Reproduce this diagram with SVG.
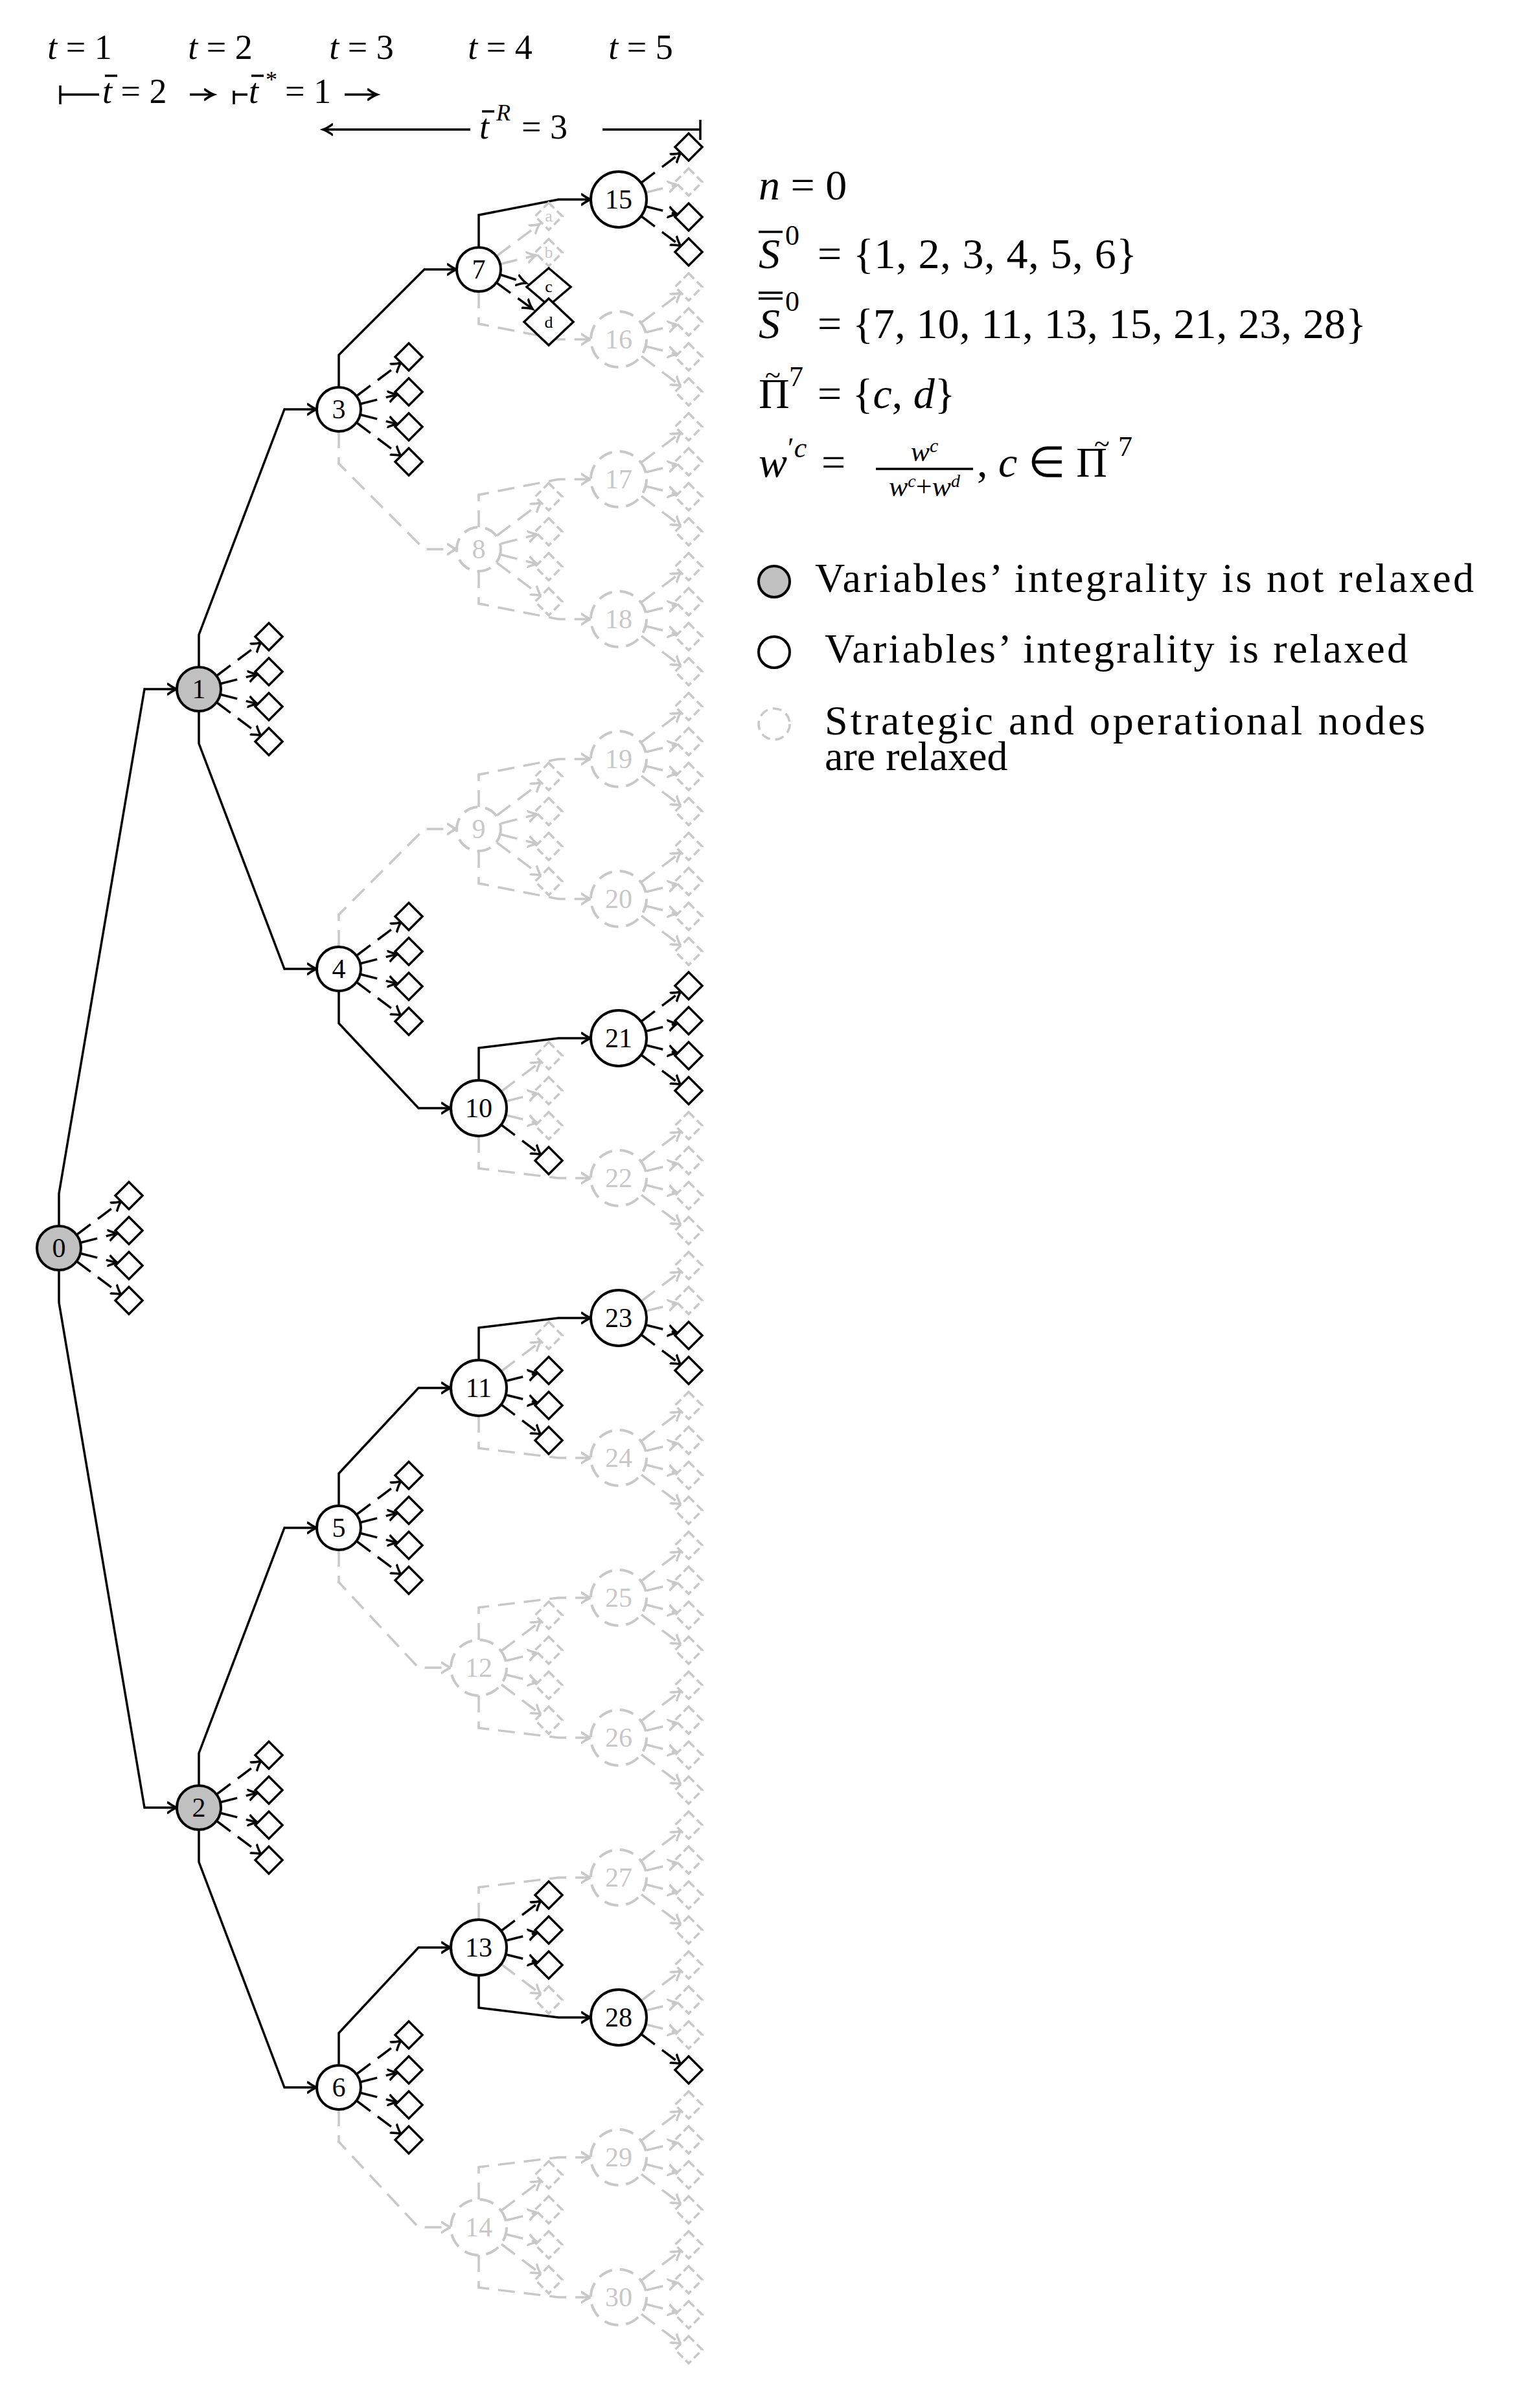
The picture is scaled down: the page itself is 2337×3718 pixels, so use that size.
<svg xmlns="http://www.w3.org/2000/svg" xmlns:xlink="http://www.w3.org/1999/xlink" width="2337" height="3718" viewBox="0 0 2337 3718">
<style>
.e{fill:none;stroke:#000;stroke-width:3.5;marker-end:url(#mb)}
.eg{fill:none;stroke:#c8c8c8;stroke-width:3.5;stroke-dasharray:26 14;marker-end:url(#mg)}
.ab{stroke:#000;stroke-width:3.5;stroke-dasharray:26 14;marker-end:url(#mb)}
.ag{stroke:#c8c8c8;stroke-width:3.5;stroke-dasharray:26 14;marker-end:url(#mg)}
.db{fill:#fff;stroke:#000;stroke-width:3.5}
.dg{fill:#fff;stroke:#c8c8c8;stroke-width:3.5;stroke-dasharray:12 6}
.nb{fill:#fff;stroke:#000;stroke-width:4}
.nf{fill:#c0c0c0;stroke:#000;stroke-width:4}
.ng{fill:#fff;stroke:#c8c8c8;stroke-width:4;stroke-dasharray:22 12}
.lb{font-family:"Liberation Serif",serif;font-size:42px;text-anchor:middle;fill:#000}
.lg{font-family:"Liberation Serif",serif;font-size:42px;text-anchor:middle;fill:#c8c8c8}
.sm{font-family:"Liberation Serif",serif;font-size:26px;text-anchor:middle}
.hd{font-family:"Liberation Serif",serif;font-size:54px}
.mt{font-family:"Liberation Serif",serif;font-size:66px}
.sup{font-family:"Liberation Serif",serif;font-size:44px}
.lgd{font-family:"Liberation Serif",serif;font-size:64px}
.ln{stroke:#000;stroke-width:3.5;fill:none}
.i{font-style:italic}
</style>
<defs>
<marker id="mb" markerUnits="userSpaceOnUse" markerWidth="30" markerHeight="30" viewBox="-15 -15 30 30" refX="0" refY="0" orient="auto"><path d="M-14,-8 Q-6,-2 0,0 Q-6,2 -14,8" fill="none" stroke="#000" stroke-width="3.5" stroke-linecap="round"/></marker>
<marker id="mg" markerUnits="userSpaceOnUse" markerWidth="30" markerHeight="30" viewBox="-15 -15 30 30" refX="0" refY="0" orient="auto"><path d="M-14,-8 Q-6,-2 0,0 Q-6,2 -14,8" fill="none" stroke="#c8c8c8" stroke-width="3.5" stroke-linecap="round"/></marker>
<polygon id="dm" points="0,-21 21,0 0,21 -21,0"/>
</defs>
<rect width="2337" height="3718" fill="#fff"/>

<g id="header">
<text x="123" y="91" class="hd" text-anchor="middle"><tspan class="i">t</tspan> = 1</text>
<text x="340" y="91" class="hd" text-anchor="middle"><tspan class="i">t</tspan> = 2</text>
<text x="558" y="91" class="hd" text-anchor="middle"><tspan class="i">t</tspan> = 3</text>
<text x="772" y="91" class="hd" text-anchor="middle"><tspan class="i">t</tspan> = 4</text>
<text x="989" y="91" class="hd" text-anchor="middle"><tspan class="i">t</tspan> = 5</text>
<path class="ln" d="M93,132 V161 M93,146 H153"/>
<text x="158" y="159" class="hd"><tspan class="i">t</tspan> = 2</text>
<line class="ln" x1="162" y1="117" x2="181" y2="117"/>
<line x1="293" y1="146" x2="330" y2="146" stroke="#000" stroke-width="3.5" marker-end="url(#mb)"/>
<path class="ln" d="M361,140 V161 M361,146 H382"/>
<text x="384" y="159" class="hd"><tspan class="i">t</tspan></text>
<line class="ln" x1="388" y1="117" x2="407" y2="117"/>
<text x="410" y="135" style="font-family:'Liberation Serif',serif;font-size:36px">*</text>
<text x="440" y="159" class="hd">= 1</text>
<line x1="532" y1="146" x2="582" y2="146" stroke="#000" stroke-width="3.5" marker-end="url(#mb)"/>
<line x1="726" y1="200" x2="499" y2="200" stroke="#000" stroke-width="3.5" marker-end="url(#mb)"/>
<text x="740" y="214" class="hd"><tspan class="i">t</tspan></text>
<line class="ln" x1="744" y1="172" x2="763" y2="172"/>
<text x="766" y="186" style="font-family:'Liberation Serif',serif;font-size:36px;font-style:italic">R</text>
<text x="805" y="214" class="hd">= 3</text>
<path class="ln" d="M930,200 H1081 M1081,185 V216"/>
</g>

<g id="info">
<text x="1171" y="308" class="mt"><tspan class="i">n</tspan> = 0</text>
<line class="ln" x1="1171" y1="358" x2="1208" y2="358"/>
<text x="1171" y="414" class="mt"><tspan class="i">S</tspan></text>
<text x="1212" y="378" class="sup">0</text>
<text x="1262" y="414" class="mt" textLength="493">= {1, 2, 3, 4, 5, 6}</text>
<line class="ln" x1="1171" y1="452" x2="1208" y2="452"/>
<line class="ln" x1="1171" y1="461" x2="1208" y2="461"/>
<text x="1171" y="522" class="mt"><tspan class="i">S</tspan></text>
<text x="1212" y="480" class="sup">0</text>
<text x="1262" y="522" class="mt" textLength="847">= {7, 10, 11, 13, 15, 21, 23, 28}</text>
<text x="1171" y="630" class="mt">Π</text>
<text x="1181" y="594" class="sup">~</text>
<text x="1218" y="596" class="sup">7</text>
<text x="1262" y="630" class="mt">= {<tspan class="i">c</tspan>, <tspan class="i">d</tspan>}</text>
<text x="1171" y="736" class="mt"><tspan class="i">w</tspan></text>
<text x="1216" y="706" class="sup">′<tspan class="i">c</tspan></text>
<text x="1268" y="736" class="mt">=</text>
<text x="1427" y="712" class="sup" text-anchor="middle"><tspan class="i">w</tspan><tspan class="i" style="font-size:30px" dy="-14">c</tspan></text>
<line class="ln" x1="1352" y1="724" x2="1502" y2="724" stroke-width="2.5"/>
<text x="1427" y="766" class="sup" text-anchor="middle"><tspan class="i">w</tspan><tspan class="i" style="font-size:28px" dy="-14">c</tspan><tspan dy="14">+</tspan><tspan class="i">w</tspan><tspan class="i" style="font-size:28px" dy="-14">d</tspan></text>
<text x="1508" y="736" class="mt">,  <tspan class="i">c</tspan> ∈ Π</text>
<text x="1689" y="700" class="sup">~</text>
<text x="1726" y="704" class="sup">7</text>
</g>

<g id="legend">
<circle cx="1195" cy="898" r="24" class="nf"/>
<text x="1258" y="914" class="lgd" textLength="1017">Variables’ integrality is not relaxed</text>
<circle cx="1195" cy="1007" r="24" class="nb"/>
<text x="1273" y="1023" class="lgd" textLength="900">Variables’ integrality is relaxed</text>
<circle cx="1195" cy="1118" r="24" fill="#fff" stroke="#c8c8c8" stroke-width="3.5" stroke-dasharray="14 8"/>
<text x="1273" y="1134" class="lgd" textLength="927">Strategic and operational nodes</text>
<text x="1273" y="1189" class="lgd">are relaxed</text>
</g>

<g id="connectors">
<path class="eg" d="M523,666 V716 L655,848 H705"/>
<path class="eg" d="M523,1462 V1412 L655,1280 H705"/>
<path class="eg" d="M523,2393 V2443 L646,2575 H696"/>
<path class="eg" d="M523,3257 V3307 L646,3439 H696"/>
<path class="eg" d="M739,450 V500 L862,524 H912"/>
<path class="eg" d="M739,814 V764 L862,740 H912"/>
<path class="eg" d="M739,882 V932 L862,956 H912"/>
<path class="eg" d="M739,1246 V1196 L862,1172 H912"/>
<path class="eg" d="M739,1314 V1364 L862,1388 H912"/>
<path class="eg" d="M739,1754 V1804 L862,1819 H912"/>
<path class="eg" d="M739,2186 V2236 L862,2251 H912"/>
<path class="eg" d="M739,2532 V2482 L862,2467 H912"/>
<path class="eg" d="M739,2618 V2668 L862,2683 H912"/>
<path class="eg" d="M739,2964 V2914 L862,2899 H912"/>
<path class="eg" d="M739,3396 V3346 L862,3331 H912"/>
<path class="eg" d="M739,3482 V3532 L862,3547 H912"/>
<path class="e" d="M91,1893 V1843 L223,1064 H273"/>
<path class="e" d="M91,1961 V2011 L223,2791 H273"/>
<path class="e" d="M307,1030 V980 L439,632 H489"/>
<path class="e" d="M307,1098 V1148 L439,1496 H489"/>
<path class="e" d="M307,2757 V2707 L439,2359 H489"/>
<path class="e" d="M307,2825 V2875 L439,3223 H489"/>
<path class="e" d="M523,598 V548 L655,416 H705"/>
<path class="e" d="M523,1530 V1580 L646,1711 H696"/>
<path class="e" d="M523,2325 V2275 L646,2143 H696"/>
<path class="e" d="M523,3189 V3139 L646,3007 H696"/>
<path class="e" d="M739,382 V332 L862,308 H912"/>
<path class="e" d="M739,1668 V1618 L862,1603 H912"/>
<path class="e" d="M739,2100 V2050 L862,2035 H912"/>
<path class="e" d="M739,3050 V3100 L862,3115 H912"/>
</g>

<!-- gray nodes -->
<g id="node-8"><g transform="translate(739,848)"><line x1="28" y1="-21" x2="96" y2="-72" class="ag"/><line x1="34" y1="-8.5" x2="91" y2="-23" class="ag"/><line x1="34" y1="8.5" x2="91" y2="23" class="ag"/><line x1="28" y1="21" x2="96" y2="72" class="ag"/><use href="#dm" x="108" y="-81" class="dg"/><use href="#dm" x="108" y="-27" class="dg"/><use href="#dm" x="108" y="27" class="dg"/><use href="#dm" x="108" y="81" class="dg"/></g><circle cx="739" cy="848" r="34" class="ng"/><text x="739" y="862" class="lg">8</text></g>
<g id="node-9"><g transform="translate(739,1280)"><line x1="28" y1="-21" x2="96" y2="-72" class="ag"/><line x1="34" y1="-8.5" x2="91" y2="-23" class="ag"/><line x1="34" y1="8.5" x2="91" y2="23" class="ag"/><line x1="28" y1="21" x2="96" y2="72" class="ag"/><use href="#dm" x="108" y="-81" class="dg"/><use href="#dm" x="108" y="-27" class="dg"/><use href="#dm" x="108" y="27" class="dg"/><use href="#dm" x="108" y="81" class="dg"/></g><circle cx="739" cy="1280" r="34" class="ng"/><text x="739" y="1294" class="lg">9</text></g>
<g id="node-12"><g transform="translate(739,2575)"><line x1="35" y1="-26" x2="96" y2="-72" class="ag"/><line x1="43" y1="-11" x2="91" y2="-23" class="ag"/><line x1="43" y1="11" x2="91" y2="23" class="ag"/><line x1="35" y1="26" x2="96" y2="72" class="ag"/><use href="#dm" x="108" y="-81" class="dg"/><use href="#dm" x="108" y="-27" class="dg"/><use href="#dm" x="108" y="27" class="dg"/><use href="#dm" x="108" y="81" class="dg"/></g><circle cx="739" cy="2575" r="43" class="ng"/><text x="739" y="2589" class="lg">12</text></g>
<g id="node-14"><g transform="translate(739,3439)"><line x1="35" y1="-26" x2="96" y2="-72" class="ag"/><line x1="43" y1="-11" x2="91" y2="-23" class="ag"/><line x1="43" y1="11" x2="91" y2="23" class="ag"/><line x1="35" y1="26" x2="96" y2="72" class="ag"/><use href="#dm" x="108" y="-81" class="dg"/><use href="#dm" x="108" y="-27" class="dg"/><use href="#dm" x="108" y="27" class="dg"/><use href="#dm" x="108" y="81" class="dg"/></g><circle cx="739" cy="3439" r="43" class="ng"/><text x="739" y="3453" class="lg">14</text></g>
<g id="node-16"><g transform="translate(955,524)"><line x1="35" y1="-26" x2="96" y2="-72" class="ag"/><line x1="43" y1="-11" x2="91" y2="-23" class="ag"/><line x1="43" y1="11" x2="91" y2="23" class="ag"/><line x1="35" y1="26" x2="96" y2="72" class="ag"/><use href="#dm" x="108" y="-81" class="dg"/><use href="#dm" x="108" y="-27" class="dg"/><use href="#dm" x="108" y="27" class="dg"/><use href="#dm" x="108" y="81" class="dg"/></g><circle cx="955" cy="524" r="43" class="ng"/><text x="955" y="538" class="lg">16</text></g>
<g id="node-17"><g transform="translate(955,740)"><line x1="35" y1="-26" x2="96" y2="-72" class="ag"/><line x1="43" y1="-11" x2="91" y2="-23" class="ag"/><line x1="43" y1="11" x2="91" y2="23" class="ag"/><line x1="35" y1="26" x2="96" y2="72" class="ag"/><use href="#dm" x="108" y="-81" class="dg"/><use href="#dm" x="108" y="-27" class="dg"/><use href="#dm" x="108" y="27" class="dg"/><use href="#dm" x="108" y="81" class="dg"/></g><circle cx="955" cy="740" r="43" class="ng"/><text x="955" y="754" class="lg">17</text></g>
<g id="node-18"><g transform="translate(955,956)"><line x1="35" y1="-26" x2="96" y2="-72" class="ag"/><line x1="43" y1="-11" x2="91" y2="-23" class="ag"/><line x1="43" y1="11" x2="91" y2="23" class="ag"/><line x1="35" y1="26" x2="96" y2="72" class="ag"/><use href="#dm" x="108" y="-81" class="dg"/><use href="#dm" x="108" y="-27" class="dg"/><use href="#dm" x="108" y="27" class="dg"/><use href="#dm" x="108" y="81" class="dg"/></g><circle cx="955" cy="956" r="43" class="ng"/><text x="955" y="970" class="lg">18</text></g>
<g id="node-19"><g transform="translate(955,1172)"><line x1="35" y1="-26" x2="96" y2="-72" class="ag"/><line x1="43" y1="-11" x2="91" y2="-23" class="ag"/><line x1="43" y1="11" x2="91" y2="23" class="ag"/><line x1="35" y1="26" x2="96" y2="72" class="ag"/><use href="#dm" x="108" y="-81" class="dg"/><use href="#dm" x="108" y="-27" class="dg"/><use href="#dm" x="108" y="27" class="dg"/><use href="#dm" x="108" y="81" class="dg"/></g><circle cx="955" cy="1172" r="43" class="ng"/><text x="955" y="1186" class="lg">19</text></g>
<g id="node-20"><g transform="translate(955,1388)"><line x1="35" y1="-26" x2="96" y2="-72" class="ag"/><line x1="43" y1="-11" x2="91" y2="-23" class="ag"/><line x1="43" y1="11" x2="91" y2="23" class="ag"/><line x1="35" y1="26" x2="96" y2="72" class="ag"/><use href="#dm" x="108" y="-81" class="dg"/><use href="#dm" x="108" y="-27" class="dg"/><use href="#dm" x="108" y="27" class="dg"/><use href="#dm" x="108" y="81" class="dg"/></g><circle cx="955" cy="1388" r="43" class="ng"/><text x="955" y="1402" class="lg">20</text></g>
<g id="node-22"><g transform="translate(955,1819)"><line x1="35" y1="-26" x2="96" y2="-72" class="ag"/><line x1="43" y1="-11" x2="91" y2="-23" class="ag"/><line x1="43" y1="11" x2="91" y2="23" class="ag"/><line x1="35" y1="26" x2="96" y2="72" class="ag"/><use href="#dm" x="108" y="-81" class="dg"/><use href="#dm" x="108" y="-27" class="dg"/><use href="#dm" x="108" y="27" class="dg"/><use href="#dm" x="108" y="81" class="dg"/></g><circle cx="955" cy="1819" r="43" class="ng"/><text x="955" y="1833" class="lg">22</text></g>
<g id="node-24"><g transform="translate(955,2251)"><line x1="35" y1="-26" x2="96" y2="-72" class="ag"/><line x1="43" y1="-11" x2="91" y2="-23" class="ag"/><line x1="43" y1="11" x2="91" y2="23" class="ag"/><line x1="35" y1="26" x2="96" y2="72" class="ag"/><use href="#dm" x="108" y="-81" class="dg"/><use href="#dm" x="108" y="-27" class="dg"/><use href="#dm" x="108" y="27" class="dg"/><use href="#dm" x="108" y="81" class="dg"/></g><circle cx="955" cy="2251" r="43" class="ng"/><text x="955" y="2265" class="lg">24</text></g>
<g id="node-25"><g transform="translate(955,2467)"><line x1="35" y1="-26" x2="96" y2="-72" class="ag"/><line x1="43" y1="-11" x2="91" y2="-23" class="ag"/><line x1="43" y1="11" x2="91" y2="23" class="ag"/><line x1="35" y1="26" x2="96" y2="72" class="ag"/><use href="#dm" x="108" y="-81" class="dg"/><use href="#dm" x="108" y="-27" class="dg"/><use href="#dm" x="108" y="27" class="dg"/><use href="#dm" x="108" y="81" class="dg"/></g><circle cx="955" cy="2467" r="43" class="ng"/><text x="955" y="2481" class="lg">25</text></g>
<g id="node-26"><g transform="translate(955,2683)"><line x1="35" y1="-26" x2="96" y2="-72" class="ag"/><line x1="43" y1="-11" x2="91" y2="-23" class="ag"/><line x1="43" y1="11" x2="91" y2="23" class="ag"/><line x1="35" y1="26" x2="96" y2="72" class="ag"/><use href="#dm" x="108" y="-81" class="dg"/><use href="#dm" x="108" y="-27" class="dg"/><use href="#dm" x="108" y="27" class="dg"/><use href="#dm" x="108" y="81" class="dg"/></g><circle cx="955" cy="2683" r="43" class="ng"/><text x="955" y="2697" class="lg">26</text></g>
<g id="node-27"><g transform="translate(955,2899)"><line x1="35" y1="-26" x2="96" y2="-72" class="ag"/><line x1="43" y1="-11" x2="91" y2="-23" class="ag"/><line x1="43" y1="11" x2="91" y2="23" class="ag"/><line x1="35" y1="26" x2="96" y2="72" class="ag"/><use href="#dm" x="108" y="-81" class="dg"/><use href="#dm" x="108" y="-27" class="dg"/><use href="#dm" x="108" y="27" class="dg"/><use href="#dm" x="108" y="81" class="dg"/></g><circle cx="955" cy="2899" r="43" class="ng"/><text x="955" y="2913" class="lg">27</text></g>
<g id="node-29"><g transform="translate(955,3331)"><line x1="35" y1="-26" x2="96" y2="-72" class="ag"/><line x1="43" y1="-11" x2="91" y2="-23" class="ag"/><line x1="43" y1="11" x2="91" y2="23" class="ag"/><line x1="35" y1="26" x2="96" y2="72" class="ag"/><use href="#dm" x="108" y="-81" class="dg"/><use href="#dm" x="108" y="-27" class="dg"/><use href="#dm" x="108" y="27" class="dg"/><use href="#dm" x="108" y="81" class="dg"/></g><circle cx="955" cy="3331" r="43" class="ng"/><text x="955" y="3345" class="lg">29</text></g>
<g id="node-30"><g transform="translate(955,3547)"><line x1="35" y1="-26" x2="96" y2="-72" class="ag"/><line x1="43" y1="-11" x2="91" y2="-23" class="ag"/><line x1="43" y1="11" x2="91" y2="23" class="ag"/><line x1="35" y1="26" x2="96" y2="72" class="ag"/><use href="#dm" x="108" y="-81" class="dg"/><use href="#dm" x="108" y="-27" class="dg"/><use href="#dm" x="108" y="27" class="dg"/><use href="#dm" x="108" y="81" class="dg"/></g><circle cx="955" cy="3547" r="43" class="ng"/><text x="955" y="3561" class="lg">30</text></g>

<!-- black nodes -->
<g id="node-0"><g transform="translate(91,1927)"><line x1="28" y1="-21" x2="96" y2="-72" class="ab"/><line x1="34" y1="-8.5" x2="91" y2="-23" class="ab"/><line x1="34" y1="8.5" x2="91" y2="23" class="ab"/><line x1="28" y1="21" x2="96" y2="72" class="ab"/><use href="#dm" x="108" y="-81" class="db"/><use href="#dm" x="108" y="-27" class="db"/><use href="#dm" x="108" y="27" class="db"/><use href="#dm" x="108" y="81" class="db"/></g><circle cx="91" cy="1927" r="34" class="nf"/><text x="91" y="1941" class="lb">0</text></g>
<g id="node-1"><g transform="translate(307,1064)"><line x1="28" y1="-21" x2="96" y2="-72" class="ab"/><line x1="34" y1="-8.5" x2="91" y2="-23" class="ab"/><line x1="34" y1="8.5" x2="91" y2="23" class="ab"/><line x1="28" y1="21" x2="96" y2="72" class="ab"/><use href="#dm" x="108" y="-81" class="db"/><use href="#dm" x="108" y="-27" class="db"/><use href="#dm" x="108" y="27" class="db"/><use href="#dm" x="108" y="81" class="db"/></g><circle cx="307" cy="1064" r="34" class="nf"/><text x="307" y="1078" class="lb">1</text></g>
<g id="node-2"><g transform="translate(307,2791)"><line x1="28" y1="-21" x2="96" y2="-72" class="ab"/><line x1="34" y1="-8.5" x2="91" y2="-23" class="ab"/><line x1="34" y1="8.5" x2="91" y2="23" class="ab"/><line x1="28" y1="21" x2="96" y2="72" class="ab"/><use href="#dm" x="108" y="-81" class="db"/><use href="#dm" x="108" y="-27" class="db"/><use href="#dm" x="108" y="27" class="db"/><use href="#dm" x="108" y="81" class="db"/></g><circle cx="307" cy="2791" r="34" class="nf"/><text x="307" y="2805" class="lb">2</text></g>
<g id="node-3"><g transform="translate(523,632)"><line x1="28" y1="-21" x2="96" y2="-72" class="ab"/><line x1="34" y1="-8.5" x2="91" y2="-23" class="ab"/><line x1="34" y1="8.5" x2="91" y2="23" class="ab"/><line x1="28" y1="21" x2="96" y2="72" class="ab"/><use href="#dm" x="108" y="-81" class="db"/><use href="#dm" x="108" y="-27" class="db"/><use href="#dm" x="108" y="27" class="db"/><use href="#dm" x="108" y="81" class="db"/></g><circle cx="523" cy="632" r="34" class="nb"/><text x="523" y="646" class="lb">3</text></g>
<g id="node-4"><g transform="translate(523,1496)"><line x1="28" y1="-21" x2="96" y2="-72" class="ab"/><line x1="34" y1="-8.5" x2="91" y2="-23" class="ab"/><line x1="34" y1="8.5" x2="91" y2="23" class="ab"/><line x1="28" y1="21" x2="96" y2="72" class="ab"/><use href="#dm" x="108" y="-81" class="db"/><use href="#dm" x="108" y="-27" class="db"/><use href="#dm" x="108" y="27" class="db"/><use href="#dm" x="108" y="81" class="db"/></g><circle cx="523" cy="1496" r="34" class="nb"/><text x="523" y="1510" class="lb">4</text></g>
<g id="node-5"><g transform="translate(523,2359)"><line x1="28" y1="-21" x2="96" y2="-72" class="ab"/><line x1="34" y1="-8.5" x2="91" y2="-23" class="ab"/><line x1="34" y1="8.5" x2="91" y2="23" class="ab"/><line x1="28" y1="21" x2="96" y2="72" class="ab"/><use href="#dm" x="108" y="-81" class="db"/><use href="#dm" x="108" y="-27" class="db"/><use href="#dm" x="108" y="27" class="db"/><use href="#dm" x="108" y="81" class="db"/></g><circle cx="523" cy="2359" r="34" class="nb"/><text x="523" y="2373" class="lb">5</text></g>
<g id="node-6"><g transform="translate(523,3223)"><line x1="28" y1="-21" x2="96" y2="-72" class="ab"/><line x1="34" y1="-8.5" x2="91" y2="-23" class="ab"/><line x1="34" y1="8.5" x2="91" y2="23" class="ab"/><line x1="28" y1="21" x2="96" y2="72" class="ab"/><use href="#dm" x="108" y="-81" class="db"/><use href="#dm" x="108" y="-27" class="db"/><use href="#dm" x="108" y="27" class="db"/><use href="#dm" x="108" y="81" class="db"/></g><circle cx="523" cy="3223" r="34" class="nb"/><text x="523" y="3237" class="lb">6</text></g>
<g id="node-7"><g transform="translate(739,416)"><line x1="28" y1="-21" x2="94" y2="-70" class="ag"/><line x1="34" y1="-8.5" x2="89" y2="-22" class="ag"/><line x1="33" y1="8" x2="73" y2="21" class="ab"/><line x1="28" y1="21" x2="83" y2="61" class="ab"/><use href="#dm" x="108" y="-82" class="dg"/><text x="108" y="-74" class="sm" fill="#c8c8c8">a</text><use href="#dm" x="108" y="-26" class="dg"/><text x="108" y="-18" class="sm" fill="#c8c8c8">b</text><polygon points="108,-2 142,27 108,56 74,27" class="db"/><text x="108" y="35" class="sm">c</text><polygon points="108,45 146,81 108,117 70,81" class="db"/><text x="108" y="90" class="sm">d</text></g><circle cx="739" cy="416" r="34" class="nb"/><text x="739" y="430" class="lb">7</text></g>
<g id="node-10"><g transform="translate(739,1711)"><line x1="35" y1="-26" x2="96" y2="-72" class="ag"/><line x1="43" y1="-11" x2="91" y2="-23" class="ag"/><line x1="43" y1="11" x2="91" y2="23" class="ag"/><line x1="35" y1="26" x2="96" y2="72" class="ab"/><use href="#dm" x="108" y="-81" class="dg"/><use href="#dm" x="108" y="-27" class="dg"/><use href="#dm" x="108" y="27" class="dg"/><use href="#dm" x="108" y="81" class="db"/></g><circle cx="739" cy="1711" r="43" class="nb"/><text x="739" y="1725" class="lb">10</text></g>
<g id="node-11"><g transform="translate(739,2143)"><line x1="35" y1="-26" x2="96" y2="-72" class="ag"/><line x1="43" y1="-11" x2="91" y2="-23" class="ab"/><line x1="43" y1="11" x2="91" y2="23" class="ab"/><line x1="35" y1="26" x2="96" y2="72" class="ab"/><use href="#dm" x="108" y="-81" class="dg"/><use href="#dm" x="108" y="-27" class="db"/><use href="#dm" x="108" y="27" class="db"/><use href="#dm" x="108" y="81" class="db"/></g><circle cx="739" cy="2143" r="43" class="nb"/><text x="739" y="2157" class="lb">11</text></g>
<g id="node-13"><g transform="translate(739,3007)"><line x1="35" y1="26" x2="96" y2="72" class="ag"/><use href="#dm" x="108" y="81" class="dg"/><line x1="35" y1="-26" x2="96" y2="-72" class="ab"/><line x1="43" y1="-11" x2="91" y2="-23" class="ab"/><line x1="43" y1="11" x2="91" y2="23" class="ab"/><use href="#dm" x="108" y="-81" class="db"/><use href="#dm" x="108" y="-27" class="db"/><use href="#dm" x="108" y="27" class="db"/></g><circle cx="739" cy="3007" r="43" class="nb"/><text x="739" y="3021" class="lb">13</text></g>
<g id="node-15"><g transform="translate(955,308)"><line x1="43" y1="-11" x2="91" y2="-23" class="ag"/><use href="#dm" x="108" y="-27" class="dg"/><line x1="35" y1="-26" x2="96" y2="-72" class="ab"/><line x1="43" y1="11" x2="91" y2="23" class="ab"/><line x1="35" y1="26" x2="96" y2="72" class="ab"/><use href="#dm" x="108" y="-81" class="db"/><use href="#dm" x="108" y="27" class="db"/><use href="#dm" x="108" y="81" class="db"/></g><circle cx="955" cy="308" r="43" class="nb"/><text x="955" y="322" class="lb">15</text></g>
<g id="node-21"><g transform="translate(955,1603)"><line x1="35" y1="-26" x2="96" y2="-72" class="ab"/><line x1="43" y1="-11" x2="91" y2="-23" class="ab"/><line x1="43" y1="11" x2="91" y2="23" class="ab"/><line x1="35" y1="26" x2="96" y2="72" class="ab"/><use href="#dm" x="108" y="-81" class="db"/><use href="#dm" x="108" y="-27" class="db"/><use href="#dm" x="108" y="27" class="db"/><use href="#dm" x="108" y="81" class="db"/></g><circle cx="955" cy="1603" r="43" class="nb"/><text x="955" y="1617" class="lb">21</text></g>
<g id="node-23"><g transform="translate(955,2035)"><line x1="35" y1="-26" x2="96" y2="-72" class="ag"/><line x1="43" y1="-11" x2="91" y2="-23" class="ag"/><use href="#dm" x="108" y="-81" class="dg"/><use href="#dm" x="108" y="-27" class="dg"/><line x1="43" y1="11" x2="91" y2="23" class="ab"/><line x1="35" y1="26" x2="96" y2="72" class="ab"/><use href="#dm" x="108" y="27" class="db"/><use href="#dm" x="108" y="81" class="db"/></g><circle cx="955" cy="2035" r="43" class="nb"/><text x="955" y="2049" class="lb">23</text></g>
<g id="node-28"><g transform="translate(955,3115)"><line x1="35" y1="-26" x2="96" y2="-72" class="ag"/><line x1="43" y1="-11" x2="91" y2="-23" class="ag"/><line x1="43" y1="11" x2="91" y2="23" class="ag"/><use href="#dm" x="108" y="-81" class="dg"/><use href="#dm" x="108" y="-27" class="dg"/><use href="#dm" x="108" y="27" class="dg"/><line x1="35" y1="26" x2="96" y2="72" class="ab"/><use href="#dm" x="108" y="81" class="db"/></g><circle cx="955" cy="3115" r="43" class="nb"/><text x="955" y="3129" class="lb">28</text></g>
</svg>
